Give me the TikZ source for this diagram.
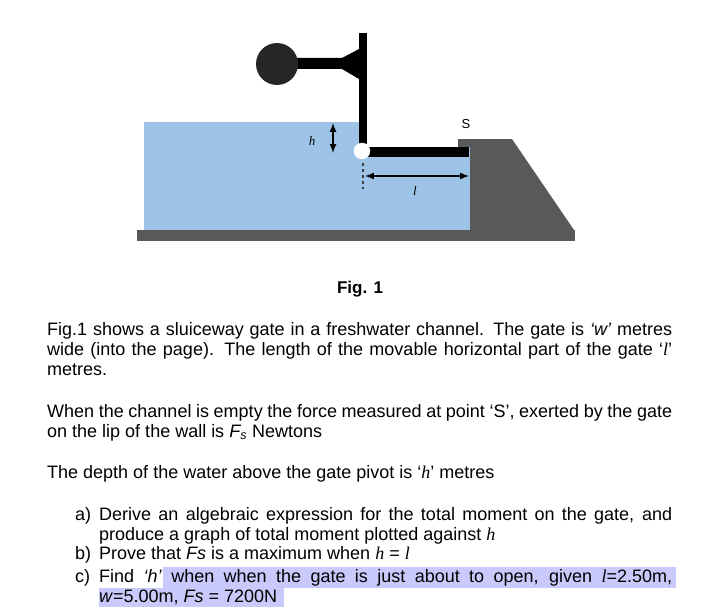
\documentclass[tikz,border=0pt]{standalone}
\usepackage{fontspec}
\setmainfont{Liberation Sans}
\newfontfamily\mathletter{Liberation Serif}
\newcommand{\varh}{{\mathletter\itshape h}}
\newcommand{\varl}{{\mathletter\itshape l}}
\tikzset{
	bodytext/.style={anchor=north west, inner sep=0pt, align=justify, font=\fontsize{18}{20}\selectfont},
	varlabel/.style={inner sep=0pt, font=\fontsize{13}{13}\selectfont},
	solid ground/.style={fill=groundgray, draw=none},
	dim arrow/.style={<->, >=latex, line width=2pt},
}
\definecolor{watercol}{HTML}{9DC3E6}
\definecolor{groundgray}{HTML}{595959}
\definecolor{ballcol}{HTML}{262626}
\definecolor{markcol}{HTML}{C9C9FC}
\begin{document}
\begin{tikzpicture}[x=1pt, y=-1pt]
	\useasboundingbox (0,0) rectangle (712,610);

	% Draw the water
	\fill[watercol] (144,122) -- (362,122) -- (362,147) -- (470,147) -- (470,230) -- (144,230) -- cycle;

	% Draw the channel bed and the wall
	\fill[solid ground] (137,230) rectangle (575,241);
	\fill[solid ground] (458,139) -- (512,139) -- (574,230) -- (470,230) -- (470,147) -- (458,147) -- cycle;

	% Draw the gate with its counterweight
	\fill[black] (359,33) rectangle (367,150);
	\fill[black] (363,147) rectangle (469,157);
	\fill[black] (296,58) -- (342,58) -- (359,49) -- (359,79) -- (342,69) -- (296,69) -- cycle;
	\node[circle, fill=ballcol, minimum size=42pt, inner sep=0pt] (ball) at (277,64) {};
	\node[circle, fill=white, draw=white, minimum size=16pt, inner sep=0pt] (pivot) at (362,151) {};

	% Draw the dimensions
	\coordinate (htop) at (333,123);
	\coordinate (hbottom) at (333,153);
	\coordinate (lleft) at (365,176);
	\coordinate (lright) at (469,176);
	\coordinate (dashstart) at (363,163);
	\coordinate (dashend) at (363,189);
	\draw[dim arrow] (htop) -- (hbottom);
	\draw[dim arrow] (lleft) -- (lright);
	\draw[dashed, line width=1.3pt, black!75] (dashstart) -- (dashend);
	\node[varlabel] (hlabel) at (312,141) {\mathletter\itshape h};
	\node[varlabel] (llabel) at (415,191) {\mathletter\itshape l};
	\node[varlabel] (slabel) at (466,124) {S};

	\node[font=\fontsize{17}{17}\selectfont\bfseries] (figtitle) at (360,289) {Fig. 1};

	% Draw the highlight behind part c
	\fill[markcol] (163,567) rectangle (676,588);
	\fill[markcol] (99,588) rectangle (284,607);

	% Draw the text
	\node[bodytext, text width=625pt] (para1) at (47,322) {Fig.1 shows a sluiceway gate in a freshwater channel. The gate is \textit{‘w’} metres wide (into the page). The length of the movable horizontal part of the gate ‘\varl’ metres.};
	\node[bodytext, text width=625pt] (para2) at (47,404) {When the channel is empty the force measured at point ‘S’, exerted by the gate on the lip of the wall is \textit{F\textsubscript{s}} Newtons};
	\node[bodytext, text width=625pt] (para3) at (47,465) {The depth of the water above the gate pivot is ‘\varh’ metres};

	\node[bodytext] (marka) at (75,507) {a)};
	\node[bodytext, text width=573pt] (parta) at (99,507) {Derive an algebraic expression for the total moment on the gate, and produce a graph of total moment plotted against \varh};
	\node[bodytext] (markb) at (75,546) {b)};
	\node[bodytext, text width=573pt] (partb) at (99,546) {Prove that \textit{Fs} is a maximum when \varh{} = \varl};
	\node[bodytext] (markc) at (75,569) {c)};
	\node[bodytext, text width=573pt] (partc) at (99,569) {Find \textit{‘h’} when when the gate is just about to open, given \varl=2.50m, \textit{w}=5.00m, \textit{Fs} = 7200N};
\end{tikzpicture}
\end{document}
